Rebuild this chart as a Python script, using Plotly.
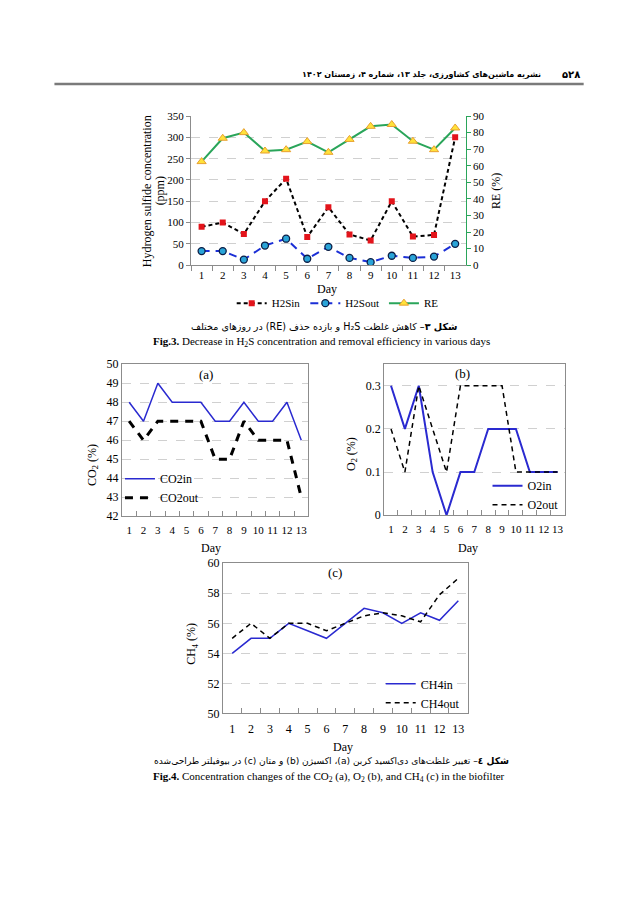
import plotly.graph_objects as go

# ---------------- data ----------------
days = [str(i) for i in range(1, 14)]

h2s_in = [90, 100, 73, 150, 203, 66, 136, 72, 58, 150, 67, 71, 300]
h2s_out = [33, 33, 13, 46, 62, 15, 43, 17, 7, 22, 17, 20, 50]
re_pct = [62.5, 76.6, 80.0, 68.9, 69.7, 74.6, 68.1, 75.9, 83.8, 84.9, 74.8, 69.7, 82.8]

co2_in = [48, 47, 49, 48, 48, 48, 47, 47, 48, 47, 47, 48, 46]
co2_out = [47, 46, 47, 47, 47, 47, 45, 45, 47, 46, 46, 46, 43]

o2_in = [0.3, 0.2, 0.3, 0.1, 0.0, 0.1, 0.1, 0.2, 0.2, 0.2, 0.1, 0.1, 0.1]
o2_out = [0.2, 0.1, 0.3, 0.2, 0.1, 0.3, 0.3, 0.3, 0.3, 0.1, 0.1, 0.1, 0.1]

ch4_in = [54, 55, 55, 56, 55.5, 55, 56, 57, 56.7, 56, 56.7, 56.2, 57.5]
ch4_out = [55, 56, 55, 56, 56, 55.5, 56, 56.5, 56.7, 56.5, 56.1, 57.9, 59]

# ---------------- helpers ----------------
W, H = 638, 902
SX, CX = 0.992, 1.0
SY, CY = 0.984, 6.0
def px(x):
    return ((x - CX) / SX) / W
def py(y):
    return 1 - ((y - CY) / SY) / H

SERIF = "Liberation Serif"
FA = "DejaVu Sans"
RLE, PDF = "\u202b", "\u202c"
GRID = "#d0d0d0"
AXC = "#8c8c8c"
BLUE = "#2a2ad0"

fig = go.Figure()

# ---- Fig 3 ----
fig.add_trace(go.Scatter(x=days, y=h2s_in, name="H2Sin", mode="lines+markers",
                         line=dict(color="black", width=2, dash="4px,3px"),
                         marker=dict(symbol="square", size=6, color="#e3141b"),
                         xaxis="x", yaxis="y", legend="legend"))
fig.add_trace(go.Scatter(x=days, y=h2s_out, name="H2Sout", mode="lines+markers",
                         line=dict(color="#1b2fd6", width=2, dash="8px,6px"),
                         marker=dict(symbol="circle", size=7, color="#2aa4d8",
                                     line=dict(color="#0b1d45", width=1.3)),
                         xaxis="x", yaxis="y", legend="legend"))
fig.add_trace(go.Scatter(x=days, y=re_pct, name="RE", mode="lines+markers",
                         line=dict(color="#2aa55a", width=2),
                         marker=dict(symbol="triangle-up", size=8, color="#ffe23a",
                                     line=dict(color="#e8a030", width=1)),
                         xaxis="x", yaxis="y2", legend="legend"))

# ---- Fig 4 (a) ----
fig.add_trace(go.Scatter(x=days, y=co2_in, name="CO2in", mode="lines",
                         line=dict(color=BLUE, width=1.5),
                         xaxis="x2", yaxis="y3", legend="legend2"))
fig.add_trace(go.Scatter(x=days, y=co2_out, name="CO2out", mode="lines",
                         line=dict(color="black", width=3, dash="8px,7px"),
                         xaxis="x2", yaxis="y3", legend="legend2"))
# ---- Fig 4 (b) ----
fig.add_trace(go.Scatter(x=days, y=o2_in, name="O2in", mode="lines",
                         line=dict(color=BLUE, width=2),
                         xaxis="x3", yaxis="y4", legend="legend3"))
fig.add_trace(go.Scatter(x=days, y=o2_out, name="O2out", mode="lines",
                         line=dict(color="black", width=1.5, dash="5px,4px"),
                         xaxis="x3", yaxis="y4", legend="legend3"))
# ---- Fig 4 (c) ----
fig.add_trace(go.Scatter(x=days, y=ch4_in, name="CH4in", mode="lines",
                         line=dict(color=BLUE, width=1.5),
                         xaxis="x4", yaxis="y5", legend="legend4"))
fig.add_trace(go.Scatter(x=days, y=ch4_out, name="CH4out", mode="lines",
                         line=dict(color="black", width=1.5, dash="5px,4px"),
                         xaxis="x4", yaxis="y5", legend="legend4"))

tickf = dict(family=SERIF, size=12, color="black")
tickf11 = dict(family=SERIF, size=11, color="black")

def xcat(domain, anchor, ticks, font, box, standoff=0):
    return dict(domain=domain, anchor=anchor, type="category", range=[-0.5, 12.5],
                tickmode="array", tickvals=days, ticktext=days, tickangle=0,
                tickson="boundaries", ticks=ticks, ticklen=5, tickcolor=AXC,
                showline=True, linecolor=AXC, linewidth=1, mirror=box,
                ticklabelstandoff=standoff,
                showgrid=False, tickfont=font, fixedrange=True)

def ylin(domain, anchor, rng, ticks, font, box, **kw):
    d = dict(domain=domain, anchor=anchor, range=rng, ticks=ticks, ticklen=4,
             tickcolor=AXC, showline=True, linecolor=AXC, linewidth=1, mirror=box,
             showgrid=True, gridcolor=GRID, griddash="dash", gridwidth=1,
             zeroline=False, tickfont=font, fixedrange=True)
    d.update(kw)
    return d

fig.update_layout(
    width=W, height=H, margin=dict(l=0, r=0, t=0, b=0),
    paper_bgcolor="white", plot_bgcolor="white",
    font=dict(family=SERIF, size=12, color="black"),
    xaxis=xcat([px(190.5), px(463)], "y", "outside", tickf11, False),
    yaxis=ylin([py(264), py(115)], "x", [0, 350], "outside", tickf11, False, dtick=50),
    yaxis2=dict(overlaying="y", side="right", anchor="x", range=[0, 90], dtick=10,
                showline=True, linecolor="#2aa55a", linewidth=1.2, ticks="outside",
                ticklen=4, tickcolor="#2aa55a", showgrid=False, zeroline=False,
                tickfont=tickf11, fixedrange=True),
    xaxis2=xcat([px(122), px(307)], "y3", "inside", tickf11, True, 4),
    yaxis3=ylin([py(515), py(363)], "x2", [42, 50], "", tickf, True, dtick=1),
    xaxis3=xcat([px(382), px(561)], "y4", "inside", tickf11, True, 4),
    yaxis4=ylin([py(514), py(363)], "x3", [0, 0.35], "", tickf, True,
                tickvals=[0, 0.1, 0.2, 0.3], ticktext=["0", "0.1", "0.2", "0.3"]),
    xaxis4=xcat([px(222), px(465)], "y5", "inside", tickf, True, 4),
    yaxis5=ylin([py(712), py(562)], "x4", [50, 60], "", tickf, True, dtick=2),
    legend=dict(orientation="h", x=px(336), y=py(302), xanchor="center", yanchor="middle",
                font=dict(family=SERIF, size=11, color="black"), bgcolor="rgba(0,0,0,0)",
                itemwidth=30, tracegroupgap=0),
    legend2=dict(x=px(120), y=py(487), xanchor="left", yanchor="middle",
                 font=dict(family=SERIF, size=12, color="black"), bgcolor="rgba(0,0,0,0)",
                 itemwidth=30, tracegroupgap=0),
    legend3=dict(x=px(560), y=py(494), xanchor="right", yanchor="middle",
                 font=dict(family=SERIF, size=12, color="black"), bgcolor="rgba(0,0,0,0)",
                 itemwidth=30, tracegroupgap=0),
    legend4=dict(x=px(462), y=py(692), xanchor="right", yanchor="middle",
                 font=dict(family=SERIF, size=12, color="black"), bgcolor="rgba(0,0,0,0)",
                 itemwidth=30, tracegroupgap=0),
)

ann = []
def A(text, x, y, size=12, angle=0, family=SERIF, xanchor="center", color="black"):
    ann.append(dict(text=text, x=px(x), y=py(y), xref="paper", yref="paper",
                    showarrow=False, xanchor=xanchor, yanchor="middle", textangle=angle,
                    font=dict(family=family, size=size, color=color)))

# axis titles
A("Hydrogen sulfide concentration", 147, 190, 12, -90)
A("(ppm)", 160, 190, 12, -90)
A("RE (%)", 493, 190, 12, -90)
A("Day", 325, 288, 12)
A("CO<sub>2</sub> (%)", 93, 464, 12, -90)
A("O<sub>2</sub> (%)", 350, 453, 12, -90)
A("CH<sub>4</sub> (%)", 192, 643, 12, -90)
A("Day", 210, 547, 12)
A("Day", 465, 547, 12)
A("Day", 341, 746, 12)
# panel labels
A("(a)", 205, 373, 13)
A("(b)", 460, 372, 13)
A("(c)", 333, 571, 13)

# header
A("<b>" + RLE + "نشریه ماشین‌های کشاورزی، جلد ۱۳، شماره ۴، زمستان ۱۴۰۲" + PDF + "</b>",
  540, 73, 8, 0, FA, "right")
A("<b>۵۲۸</b>", 578, 73, 10, 0, FA, "right")

# captions
A(RLE + "<b>شکل ۳</b>– کاهش غلظت H₂S و بازده حذف (RE) در روزهای مختلف" + PDF,
  322, 325, 9.6, 0, FA)
A("<b>Fig.3.</b> Decrease in H<sub>2</sub>S concentration and removal efficiency in various days",
  320, 341, 11)
A(RLE + "<b>شکل ٤</b>– تغییر غلظت‌های دی‌اکسید کربن (a)، اکسیژن (b) و متان (c) در بیوفیلتر طراحی‌شده" + PDF,
  330, 760, 9.1, 0, FA)
A("<b>Fig.4.</b> Concentration changes of the CO<sub>2</sub> (a), O<sub>2</sub> (b), and CH<sub>4</sub> (c) in the biofilter",
  327, 776, 11)

fig.update_layout(annotations=ann)

fig.add_shape(type="line", xref="paper", yref="paper", x0=px(55), x1=px(580),
              y0=py(83), y1=py(83), line=dict(color="#7a7a7a", width=2.5))

fig.write_html("out.html", config={"displayModeBar": False},
               post_script="document.body.style.margin='0';document.body.style.overflow='hidden';")
